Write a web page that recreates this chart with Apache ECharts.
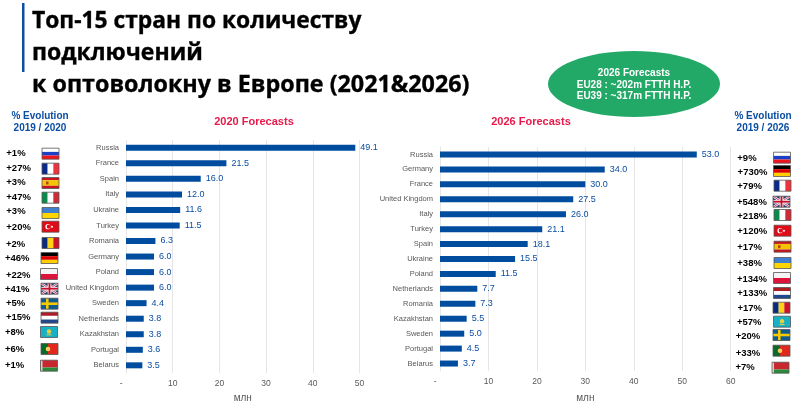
<!DOCTYPE html>
<html><head><meta charset="utf-8">
<style>html,body{margin:0;padding:0;background:#fff}#c{width:800px;height:408px}</style>
<script src="https://cdn.jsdelivr.net/npm/echarts@6/dist/echarts.min.js"></script>
</head><body><div id="c"></div>
<script>
const leftCountries=["Russia","France","Spain","Italy","Ukraine","Turkey","Romania","Germany","Poland","United Kingdom","Sweden","Netherlands","Kazakhstan","Portugal","Belarus"];
const leftValues=[49.1,21.5,16.0,12.0,11.6,11.5,6.3,6.0,6.0,6.0,4.4,3.8,3.8,3.6,3.5];
const leftPct=["+1%","+27%","+3%","+47%","+3%","+20%","+2%","+46%","+22%","+41%","+5%","+15%","+8%","+6%","+1%"];
const rightCountries=["Russia","Germany","France","United Kingdom","Italy","Turkey","Spain","Ukraine","Poland","Netherlands","Romania","Kazakhstan","Sweden","Portugal","Belarus"];
const rightValues=[53.0,34.0,30.0,27.5,26.0,21.1,18.1,15.5,11.5,7.7,7.3,5.5,5.0,4.5,3.7];
const rightPct=["+9%","+730%","+79%","+548%","+218%","+120%","+17%","+38%","+134%","+133%","+17%","+57%","+20%","+33%","+7%"];
const titleLines=["Топ-15 стран по количеству","подключений","к оптоволокну в Европе (2021&2026)"];
const bubbleLines=["2026 Forecasts","EU28 : ~202m FTTH H.P.","EU39 : ~317m FTTH H.P."];

// annotation layout
const leftLabelY=[153.7,168,182.7,197.7,211.7,227,244,258.7,275,289,303,317.7,332,349,365];
const leftLabelX=[6.3,6.3,6.3,6.3,6.3,6.3,6,5,6,5,6,6,5,5,5];
const leftFlagY=[153.7,168.7,183,197.7,213,226.7,243,258,274,288.7,303.7,317.7,332,349,365.7];
const leftFlagX=[42,42,42,42,42,42,42,41,40.5,41,41,41,40.5,41,40.5];
const rightLabelY=[158.7,172,186.7,202,216,231.3,247.3,263.3,279.3,293.7,308,322.7,336,353.3,367.7];
const rightLabelX=[737.3,737.6,737.3,737,737.3,737.3,737.3,737.3,737,737.3,737.5,737,735.7,735.7,735.5];
const rightFlagY=[157.7,171,185.7,201.7,215,230.7,246.7,263,278,293,307.7,321.7,335,350.7,367.7];
const rightFlagX=[773.5,773.5,774,773,774,774,774,774,773.5,773.5,773,773.5,773,773,772];
const FW=17,FH=11;

const stripes={
 Russia:['h',['#fff','#1c3fc8','#f0141e']],
 France:['v',['#0a2a8c','#fff','#f0323c']],
 Spain:['h3',['#c8141e','#f5c400','#c8141e']],
 Italy:['v',['#0a8a4a','#fff','#cd2b37']],
 Ukraine:['h',['#3f7fd0','#ffd500']],
 Turkey:['h',['#e30a17']],
 Romania:['v',['#0a2a7c','#fcd116','#ce1126']],
 Germany:['h',['#000','#d00','#ffce00']],
 Poland:['h',['#f4f4f4','#dc143c']],
 "United Kingdom":['h',['#1f3a7a']],
 Sweden:['h',['#0f5a90']],
 Netherlands:['h',['#ae1c28','#fff','#21468b']],
 Kazakhstan:['h',['#17b0c4']],
 Portugal:['v2',['#0a6a2a','#e0281e']],
 Belarus:['h2',['#c8272e','#2a8a3a']]
};
function rect(x,y,w,h,fill,z){return{type:'rect',shape:{x,y,width:w,height:h},style:{fill},z:z||20,silent:true}}
function flag(name,x,cy){
 const y=cy-FH/2,els=[];const [k,c]=stripes[name];
 if(k==='h'){c.forEach((col,i)=>els.push(rect(x,y+i*FH/c.length,FW,FH/c.length,col)))}
 if(k==='v'){c.forEach((col,i)=>els.push(rect(x+i*FW/c.length,y,FW/c.length,FH,col)))}
 if(k==='h3'){els.push(rect(x,y,FW,2.75,c[0]),rect(x,y+2.75,FW,5.5,c[1]),rect(x,y+8.25,FW,2.75,c[2]),rect(x+4,y+4,2.5,3,'#b4431e'))}
 if(k==='v2'){els.push(rect(x,y,7,FH,c[0]),rect(x+7,y,10,FH,c[1]),
   {type:'circle',shape:{cx:x+7,cy:cy,r:2.3},style:{fill:'#f2d060'},z:21,silent:true})}
 if(k==='h2'){els.push(rect(x,y,FW,7.3,c[0]),rect(x,y+7.3,FW,3.7,c[1]),rect(x,y,2,FH,'#e8c8c8'))}
 if(name==='Turkey'){els.push({type:'circle',shape:{cx:x+6,cy,r:2.6},style:{fill:'#fff'},z:21,silent:true},
   {type:'circle',shape:{cx:x+6.8,cy,r:2.1},style:{fill:'#e30a17'},z:22,silent:true},
   {type:'circle',shape:{cx:x+10,cy,r:1},style:{fill:'#fff'},z:22,silent:true})}
 if(name==='Sweden'){els.push(rect(x+5,y,2.6,FH,'#f5c800',21),rect(x,cy-1.3,FW,2.6,'#f5c800',21))}
 if(name==='Kazakhstan'){els.push({type:'circle',shape:{cx:x+8.5,cy:cy-.5,r:2.2},style:{fill:'#e8d040'},z:21,silent:true},rect(x+6,cy+2.3,5,1,'#e8d040',21))}
 if(name==='United Kingdom'){
  const ln=(x1,y1,x2,y2,col,w)=>({type:'line',shape:{x1,y1,x2,y2},style:{stroke:col,lineWidth:w},z:21,silent:true});
  els.push(ln(x,y,x+FW,y+FH,'#f4f4f4',2.4),ln(x+FW,y,x,y+FH,'#f4f4f4',2.4),ln(x,y,x+FW,y+FH,'#c8102e',.8),ln(x+FW,y,x,y+FH,'#c8102e',.8),
   rect(x+6.6,y,3.8,FH,'#f4f4f4',22),rect(x,cy-1.8,FW,3.6,'#f4f4f4',22),rect(x+7.6,y,1.8,FH,'#c8102e',23),rect(x,cy-.9,FW,1.8,'#c8102e',23));
 }
 els.push({type:'rect',shape:{x,y,width:FW,height:FH},style:{fill:'none',stroke:'#555',lineWidth:.8},z:25,silent:true});
 return els;
}
function txt(text,x,y,font,fill,align,extra){
 return{type:'text',x,y,z:30,silent:true,style:Object.assign({text,font,fill,align:align||'center',verticalAlign:'middle'},extra||{})};
}
const g=[];
g.push(rect(22,3,2.5,69,'#0b4ea2'));
const tY=[22,53,85];
const tSize=[22.8,23,23.3];
titleLines.forEach((t,i)=>g.push(txt(t,32,tY[i],'bold '+tSize[i]+'px "Open Sans"','#000','left',{stroke:'#000',lineWidth:.35})));
g.push({type:'ellipse',shape:{cx:634,cy:84,rx:86,ry:33},style:{fill:'#22a867'},z:10,silent:true});
const bY=[73,85,96];
bubbleLines.forEach((t,i)=>g.push(txt(t,634,bY[i],'bold 10px "Liberation Sans"','#fff')));
g.push(txt('2020 Forecasts',254,122,'bold 11px "Liberation Sans"','#e8194b'));
g.push(txt('2026 Forecasts',531,122,'bold 11px "Liberation Sans"','#e8194b'));
[[40,'2019 / 2020'],[763,'2019 / 2026']].forEach(([x,l])=>{
 g.push(txt('% Evolution',x,116,'bold 10px "Liberation Sans"','#0b4ea2'));
 g.push(txt(l,x,128,'bold 10px "Liberation Sans"','#0b4ea2'));
});
leftPct.forEach((p,i)=>g.push(txt(p,leftLabelX[i],leftLabelY[i],'bold 9.5px "Liberation Sans"','#000','left')));
rightPct.forEach((p,i)=>g.push(txt(p,rightLabelX[i],rightLabelY[i],'bold 9.5px "Liberation Sans"','#000','left')));
leftCountries.forEach((n,i)=>g.push(...flag(n,leftFlagX[i],leftFlagY[i])));
rightCountries.forEach((n,i)=>g.push(...flag(n,rightFlagX[i],rightFlagY[i])));

function xAxis(idx,max,gap){return{gridIndex:idx,type:'value',min:0,max,interval:10,name:'млн',nameLocation:'middle',nameGap:gap,
 nameTextStyle:{color:'#595959',fontSize:10,fontFamily:'Liberation Sans'},
 axisLine:{show:false},axisTick:{show:false},splitLine:{show:true,lineStyle:{color:'#e6e6e6',width:1}},
 axisLabel:{color:'#595959',fontSize:8.5,fontFamily:'Liberation Sans',margin:6,formatter:v=>v===0?'-    ':String(v)}}}
function yAxis(idx,cats){return{gridIndex:idx,type:'category',data:cats,inverse:true,
 axisLine:{show:true,lineStyle:{color:'#e6e6e6'}},axisTick:{show:false},splitLine:{show:false},
 axisLabel:{color:'#595959',fontSize:7.5,fontFamily:'Liberation Sans',margin:7,interval:0}}}
function bars(idx,vals){return{type:'bar',xAxisIndex:idx,yAxisIndex:idx,data:vals,barWidth:6,silent:true,animation:false,
 itemStyle:{color:'#004c9e'},
 label:{show:true,position:'right',distance:5,color:'#0b4ea2',fontSize:9,fontFamily:'Liberation Sans',formatter:p=>p.value.toFixed(1)}}}
const chart=echarts.init(document.getElementById('c'),null,{renderer:'canvas'});
chart.setOption({animation:false,backgroundColor:'#fff',
 grid:[{left:126,top:140,width:233.5,height:236},{left:440,top:147,width:290.7,height:225}],
 xAxis:[xAxis(0,50,17),xAxis(1,60,22)],
 yAxis:[yAxis(0,leftCountries),yAxis(1,rightCountries)],
 series:[bars(0,leftValues),bars(1,rightValues)],
 graphic:g});
</script></body></html>
